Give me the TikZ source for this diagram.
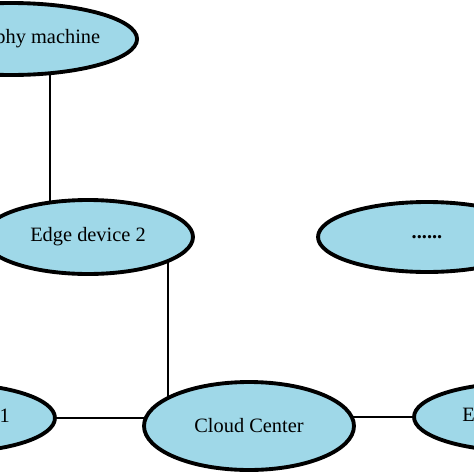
\documentclass[tikz,border=0pt]{standalone}
\usepackage{fontspec}
\setmainfont{Liberation Serif}
\usepackage{xcolor}
\usetikzlibrary{shapes.geometric, backgrounds, positioning}
\definecolor{cellblue}{RGB}{159,216,232}

\begin{document}
\begin{tikzpicture}[x=0.02cm, y=-0.02cm,
		unit/.style={ellipse, draw, line width=2.2pt, fill=cellblue, inner sep=0pt,
			minimum width=4.2cm, minimum height=1.44cm,
			font=\fontsize{11.6}{13.9}\selectfont},
		link/.style={line width=1.4pt}]
	\useasboundingbox (0,0) rectangle (474,474);
	\clip (0,0) rectangle (474,474);
	
	%% Nodes
	\node [unit] (photo) at (11,39) {Photography machine};
	\node [unit, minimum height=1.48cm] (edge2) at (88,237) {Edge device 2};
	\node [unit, minimum width=4.36cm, minimum height=1.4cm] (dots) at (427,237) {\textbf{......}};
	\node [unit, minimum height=1.76cm] (cloud) at (249,426) {Cloud Center};
	\node [unit, minimum width=4.12cm, minimum height=1.36cm] (edge1) at (-48,418) {Edge device 1};
	\node [unit, minimum width=4.24cm, minimum height=1.36cm] (edge3) at (520,417) {Edge device 3};
	
	%% Links
	\begin{scope}[on background layer]
		\draw [link] (photo.center) ++(39,0) coordinate (pa) -- (pa |- edge2.center);
		\draw [link] (edge2.center) ++(80,0) coordinate (pb) -- (pb |- cloud.center);
		\draw [link] (edge1.east) -- (edge1.east -| cloud.center);
		\draw [link] (edge3.west) -- (edge3.west -| cloud.center);
	\end{scope}
\end{tikzpicture}
\end{document}
